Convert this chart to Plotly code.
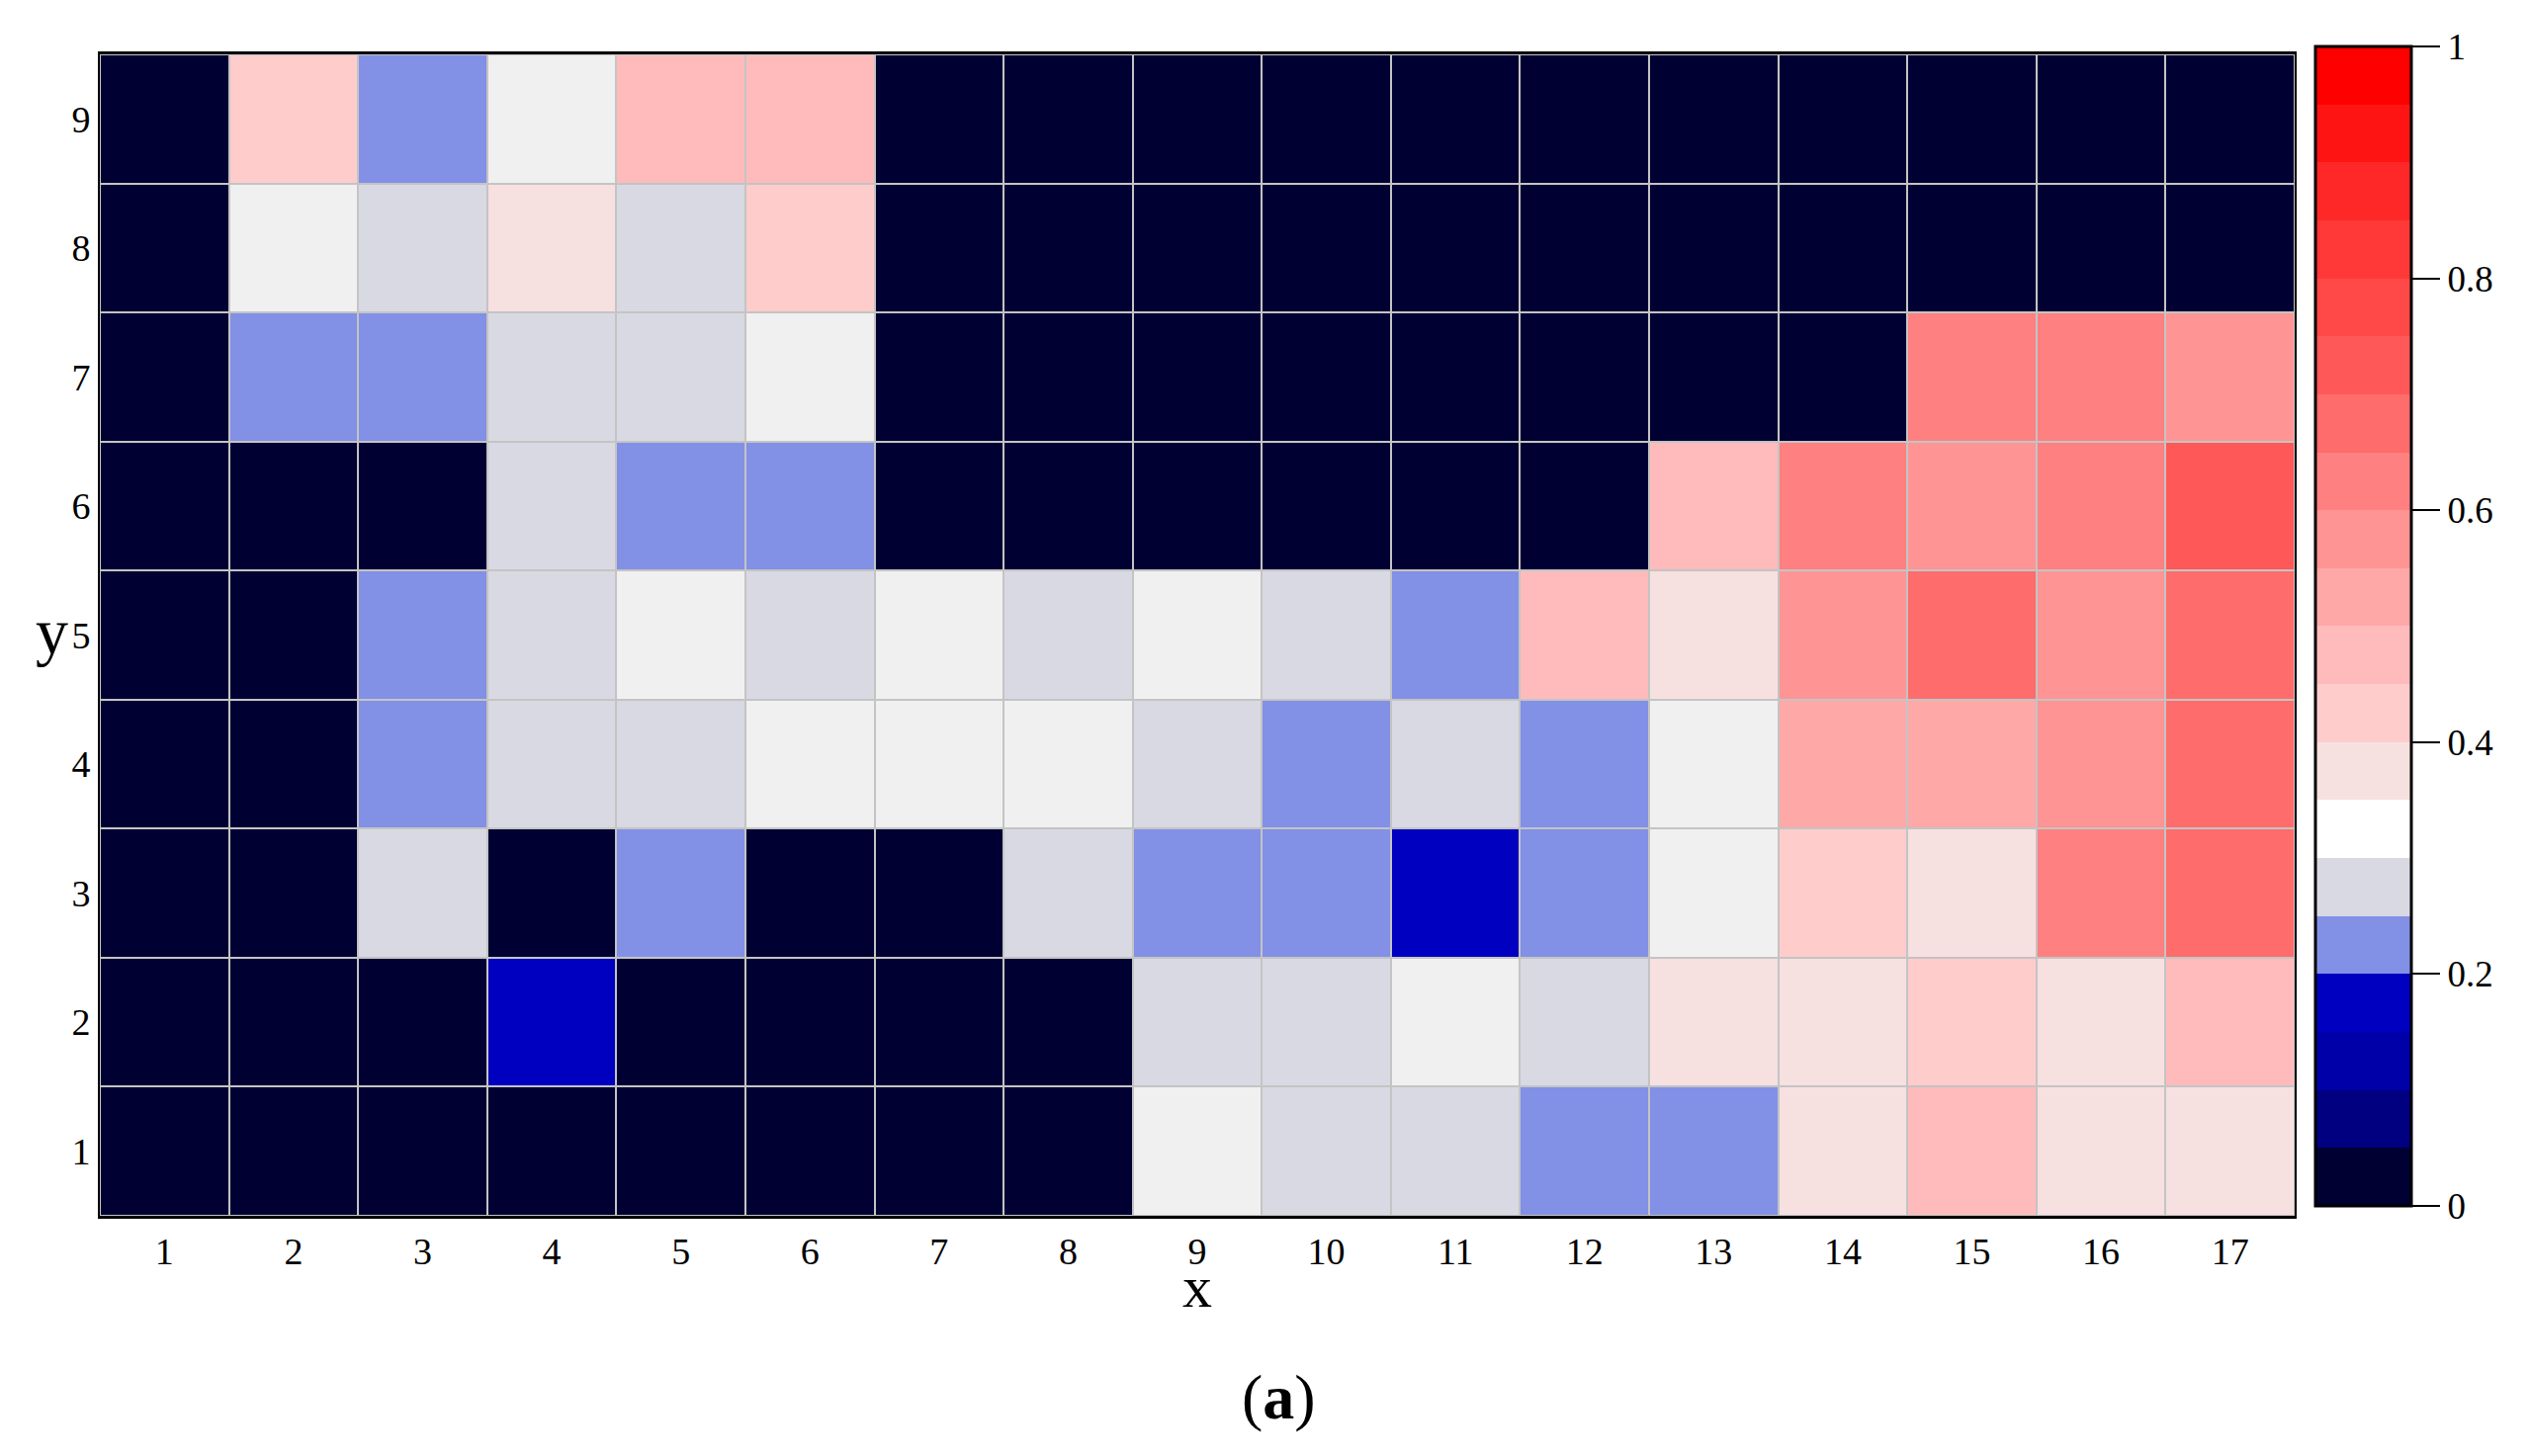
import plotly.graph_objects as go

# grid coordinates
x_cells = list(range(1, 18))
y_cells = list(range(1, 10))

# cell values, one list per row (y = 1 at the bottom)
row_y1 = [0.025, 0.025, 0.025, 0.025, 0.025, 0.025, 0.025, 0.025, 0.325, 0.275, 0.275, 0.225, 0.225, 0.375, 0.475, 0.375, 0.375]
row_y2 = [0.025, 0.025, 0.025, 0.175, 0.025, 0.025, 0.025, 0.025, 0.275, 0.275, 0.325, 0.275, 0.375, 0.375, 0.425, 0.375, 0.475]
row_y3 = [0.025, 0.025, 0.275, 0.025, 0.225, 0.025, 0.025, 0.275, 0.225, 0.225, 0.175, 0.225, 0.325, 0.425, 0.375, 0.625, 0.675]
row_y4 = [0.025, 0.025, 0.225, 0.275, 0.275, 0.325, 0.325, 0.325, 0.275, 0.225, 0.275, 0.225, 0.325, 0.525, 0.525, 0.575, 0.675]
row_y5 = [0.025, 0.025, 0.225, 0.275, 0.325, 0.275, 0.325, 0.275, 0.325, 0.275, 0.225, 0.475, 0.375, 0.575, 0.675, 0.575, 0.675]
row_y6 = [0.025, 0.025, 0.025, 0.275, 0.225, 0.225, 0.025, 0.025, 0.025, 0.025, 0.025, 0.025, 0.475, 0.625, 0.575, 0.625, 0.725]
row_y7 = [0.025, 0.225, 0.225, 0.275, 0.275, 0.325, 0.025, 0.025, 0.025, 0.025, 0.025, 0.025, 0.025, 0.025, 0.625, 0.625, 0.575]
row_y8 = [0.025, 0.325, 0.275, 0.375, 0.275, 0.425, 0.025, 0.025, 0.025, 0.025, 0.025, 0.025, 0.025, 0.025, 0.025, 0.025, 0.025]
row_y9 = [0.025, 0.425, 0.225, 0.325, 0.475, 0.475, 0.025, 0.025, 0.025, 0.025, 0.025, 0.025, 0.025, 0.025, 0.025, 0.025, 0.025]

# contour level colours (20 levels between 0 and 1)
cell_colors = ['#000033', '#000080', '#0000a8', '#0000c0', '#8290e6', '#d9d9e3', '#f0f0f0', '#f7e0e0',
               '#ffcccc', '#ffbbbb', '#ffa8a8', '#ff9494', '#ff8080', '#ff6c6c', '#ff5858', '#ff4848',
               '#ff3838', '#ff2828', '#ff1414', '#ff0000']
bar_colors = ['#000033', '#000080', '#0000a8', '#0000c0', '#8290e6', '#d9d9e3', '#ffffff', '#f7e0e0',
              '#ffcccc', '#ffbbbb', '#ffa8a8', '#ff9494', '#ff8080', '#ff6c6c', '#ff5858', '#ff4848',
              '#ff3838', '#ff2828', '#ff1414', '#ff0000']
bar_ticks = [0, 0.2, 0.4, 0.6, 0.8, 1]
bar_ticktext = ['0', '0.2', '0.4', '0.6', '0.8', '1']


def stepped(colors):
    n = len(colors)
    scale = []
    for i, c in enumerate(colors):
        scale.append([i / n, c])
        scale.append([(i + 1) / n, c])
    return scale


z = [row_y1, row_y2, row_y3, row_y4, row_y5, row_y6, row_y7, row_y8, row_y9]

FONT = 'Liberation Serif'

fig = go.Figure()
fig.add_trace(go.Heatmap(
    x=x_cells, y=y_cells, z=z,
    zmin=0, zmax=1,
    colorscale=stepped(cell_colors),
    showscale=False,
    xgap=2, ygap=2,
    hoverinfo='skip'
))
# colour legend only
fig.add_trace(go.Scatter(
    x=[None], y=[None], mode='markers',
    marker=dict(
        color=[0], cmin=0, cmax=1,
        colorscale=stepped(bar_colors),
        showscale=True,
        colorbar=dict(
            x=1.0095, xanchor='left', xpad=0,
            y=0.5077, yanchor='middle', ypad=0,
            len=1173, lenmode='pixels',
            thickness=97,
            outlinecolor='black', outlinewidth=3,
            tickvals=bar_ticks, ticktext=bar_ticktext,
            ticks='outside', ticklen=28, tickwidth=2, tickcolor='black',
            tickfont=dict(family=FONT, size=37, color='black')
        )
    ),
    showlegend=False, hoverinfo='skip'
))

# the page body adds an 8px margin, so the figure is 8px smaller
fig.update_layout(
    width=2549, height=1465,
    margin=dict(l=93, r=236, t=47, b=243),
    paper_bgcolor='white',
    plot_bgcolor='#c4c4c4',
    font=dict(family=FONT, color='black'),
    xaxis=dict(range=[0.5, 17.5], tickvals=x_cells, ticks='', showgrid=False, zeroline=False,
               showline=True, linecolor='black', linewidth=3, mirror=True,
               tickfont=dict(size=38)),
    yaxis=dict(range=[0.5, 9.5], tickvals=y_cells, ticks='', showgrid=False, zeroline=False,
               showline=True, linecolor='black', linewidth=2, mirror=True,
               tickfont=dict(size=38)),
    annotations=[
        dict(text='x', x=0.5, y=-0.061, xref='paper', yref='paper', showarrow=False,
             xanchor='center', yanchor='middle', font=dict(size=60)),
        dict(text='y', x=-0.022, y=0.503, xref='paper', yref='paper', showarrow=False,
             xanchor='center', yanchor='middle', font=dict(size=66)),
        dict(text='(<b>a</b>)', x=0.537, y=-0.156, xref='paper', yref='paper', showarrow=False,
             xanchor='center', yanchor='middle', font=dict(size=64)),
    ]
)

fig.write_html('out.html')
